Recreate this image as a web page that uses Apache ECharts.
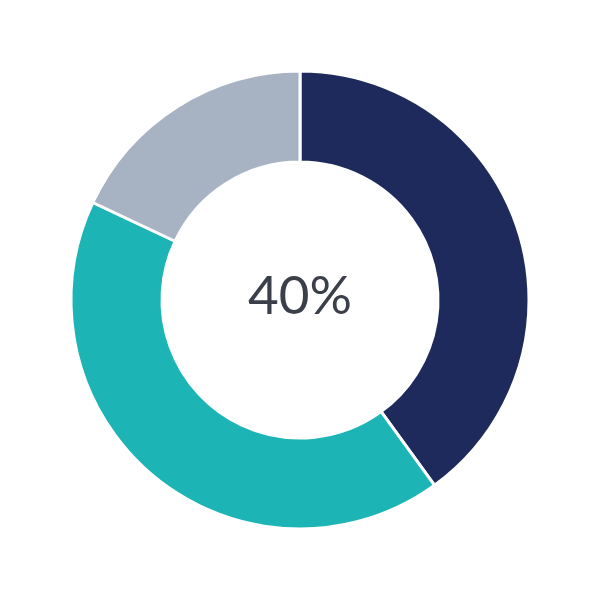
<!DOCTYPE html>
<html><head><meta charset="utf-8">
<script src="https://cdn.jsdelivr.net/npm/echarts@6/dist/echarts.min.js"></script>
<style>html,body{margin:0;padding:0;background:#fff}#c{width:600px;height:600px}</style>
</head><body><div id="c"></div>
<script>
const categories = ['A', 'B', 'C'];
const values = [40, 42, 18];
const colors = ['#1e2a5b', '#1db4b6', '#a7b2c3'];
const centerLabel = '40%';

const chart = echarts.init(document.getElementById('c'));
chart.setOption({
  animation: false,
  graphic: [{
    type: 'text', left: 'center', top: 270,
    style: { text: centerLabel, fontFamily: 'Lato', fontWeight: 400, fontSize: 53, fill: '#3a3f49' }
  }],
  series: [{
    type: 'pie',
    center: [300, 300],
    radius: [138, 229],
    startAngle: 90,
    clockwise: true,
    label: { show: false },
    labelLine: { show: false },
    itemStyle: { borderColor: '#fff', borderWidth: 3 },
    data: categories.map((n, i) => ({ name: n, value: values[i], itemStyle: { color: colors[i] } }))
  }]
});
</script></body></html>
